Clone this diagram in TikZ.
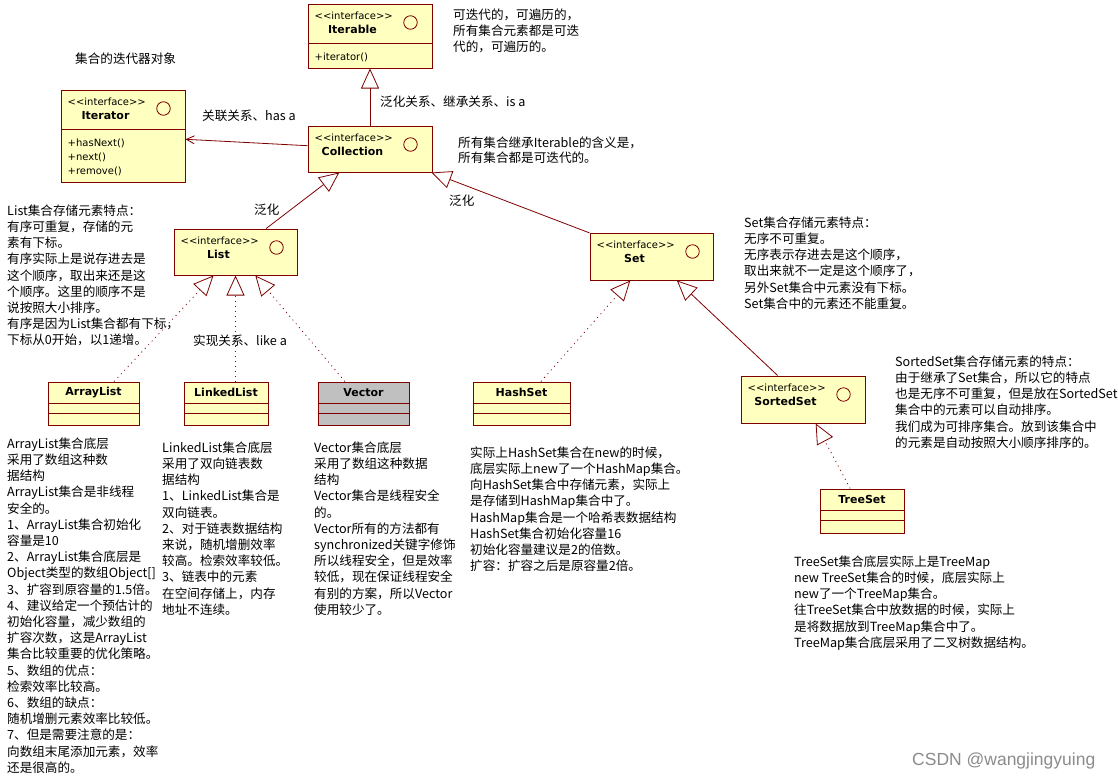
\documentclass[tikz,border=0pt]{standalone}
\usepackage{fontspec}
\setmainfont{Noto Sans CJK SC}
\newfontfamily\umlfont{DejaVu Sans}
\newfontfamily\markfont{Liberation Sans}
\usetikzlibrary{arrows.meta,calc}
\definecolor{umlred}{RGB}{128,0,0}
\definecolor{umlyellow}{RGB}{255,255,192}
\definecolor{umlgray}{RGB}{192,192,192}
\tikzset{
    umlbox/.style={draw=umlred, fill=umlyellow, line width=1pt, inner sep=0pt},
    stereo/.style={anchor=west, inner sep=0pt, font=\umlfont\fontsize{10}{12}\selectfont},
    method/.style={anchor=north west, align=left, inner sep=0pt, font=\umlfont\fontsize{10}{14}\selectfont},
    boxname/.style={inner sep=0pt, font=\umlfont\bfseries\fontsize{11}{13}\selectfont},
    ifcircle/.style={circle, draw=umlred, line width=0.8pt, minimum size=13.5pt, inner sep=0pt},
    note/.style={anchor=north west, align=left, inner sep=0pt, font=\fontsize{12.6}{16.2}\selectfont},
    gen/.style={draw=umlred, line width=0.8pt, -{Triangle[open, length=20pt, width=18pt, fill=white]}},
    real/.style={gen, dash pattern=on 1pt off 4pt},
    assoc/.style={draw=umlred, line width=0.8pt, -{Straight Barb[length=8pt, width=8pt]}},
}

\begin{document}
\begin{tikzpicture}[x=1pt, y=-1pt]
    \fill[white] (0,0) rectangle (1118,782);
    \useasboundingbox (0,0) rectangle (1118,782);

    % interfaces
    \node[umlbox, minimum width=124pt, minimum height=64pt] (iterable) at (370,36) {};
    \node[umlbox, minimum width=124pt, minimum height=92pt] (iterator) at (123,136) {};
    \node[umlbox, minimum width=124pt, minimum height=46pt] (collection) at (370,149) {};
    \node[umlbox, minimum width=123pt, minimum height=46pt] (list) at (235.5,252) {};
    \node[umlbox, minimum width=123pt, minimum height=47pt] (set) at (651.5,256.5) {};
    \node[umlbox, minimum width=124pt, minimum height=47pt] (sortedset) at (803,399.5) {};

    \foreach \n/\t in {iterable/Iterable, iterator/Iterator, collection/Collection, list/List, set/Set, sortedset/SortedSet}{
        \node[stereo] (\n st) at ($(\n.north west)+(7,12)$) {<\kern0pt<interface>\kern0pt>};
        \node[boxname] (\n nm) at ($(\n.north west)+(45,26)$) {\t};
        \node[ifcircle] (\n ic) at ($(\n.north west)+(103,19)$) {};
    }
    \draw[umlred, line width=1pt] ($(iterable.north west)+(0,40)$) -- ($(iterable.north east)+(0,40)$);
    \draw[umlred, line width=1pt] ($(iterator.north west)+(0,40)$) -- ($(iterator.north east)+(0,40)$);
    \node[stereo] (iterable m) at ($(iterable.north west)+(7,53.5)$) {+iterator()};
    \node[method] (iterator m) at ($(iterator.north west)+(7,49.5)$) {+hasNext()\\+next()\\+remove()};

    % classes
    \node[umlbox, minimum width=91pt, minimum height=43pt] (arraylist) at (93.5,403.5) {};
    \node[umlbox, minimum width=84pt, minimum height=43pt] (linkedlist) at (226,403.5) {};
    \node[umlbox, fill=umlgray, minimum width=91pt, minimum height=43pt] (vector) at (363.5,403.5) {};
    \node[umlbox, minimum width=97pt, minimum height=43pt] (hashset) at (521.5,403.5) {};
    \node[umlbox, minimum width=84pt, minimum height=44pt] (treeset) at (862,511) {};

    \foreach \n/\t in {arraylist/ArrayList, linkedlist/LinkedList, vector/Vector, hashset/HashSet, treeset/TreeSet}{
        \node[boxname] (\n nm) at ($(\n.north)+(0,11)$) {\t};
        \draw[umlred, line width=1pt] ($(\n.north west)+(0,22)$) -- ($(\n.north east)+(0,22)$)
            ($(\n.north west)+(0,32)$) -- ($(\n.north east)+(0,32)$);
    }

    % connectors
    \draw[gen] (collection) -- (iterable);
    \draw[assoc] (collection) -- (iterator);
    \draw[gen] (list) -- (collection);
    \draw[gen] (set) -- (collection);
    \draw[real] (arraylist) -- (list);
    \draw[real] (linkedlist.north -| list.south) -- (list.south);
    \draw[real] (vector) -- (list);
    \draw[real] (hashset) -- (set);
    \draw[gen] (sortedset) -- (set);
    \draw[real] (treeset) -- (sortedset);

    % labels
    \node[note] (itnote) at (453,8.5) {可迭代的，可遍历的，\\所有集合元素都是可迭\\代的，可遍历的。};
    \node[note] (itertext) at (75,52.5) {集合的迭代器对象};
    \node[note] (hasa) at (202,109.5) {关联关系、has a};
    \node[note] (isa) at (380,95.5) {泛化关系、继承关系、is a};
    \node[note, font=\fontsize{12.6}{15}\selectfont] (collnote) at (458,136.5) {所有集合继承Iterable的含义是，\\所有集合都是可迭代的。};
    \node[note] (genlist) at (254,203.5) {泛化};
    \node[note] (genset) at (449,194.5) {泛化};
    \node[note] (likea) at (193,334.5) {实现关系、like a};

    \node[note] (listnote) at (7,204.5) {List集合存储元素特点：\\有序可重复，存储的元\\素有下标。\\有序实际上是说存进去是\\这个顺序，取出来还是这\\个顺序。这里的顺序不是\\说按照大小排序。\\有序是因为List集合都有下标，\\下标从0开始，以1递增。};
    \node[note] (setnote) at (744,216.5) {Set集合存储元素特点：\\无序不可重复。\\无序表示存进去是这个顺序，\\取出来就不一定是这个顺序了，\\另外Set集合中元素没有下标。\\Set集合中的元素还不能重复。};
    \node[note] (sortednote) at (895,355.5) {SortedSet集合存储元素的特点：\\由于继承了Set集合，所以它的特点\\也是无序不可重复，但是放在SortedSet\\集合中的元素可以自动排序。\\我们成为可排序集合。放到该集合中\\的元素是自动按照大小顺序排序的。};
    \node[note] (arraynote) at (7,437.5) {ArrayList集合底层\\采用了数组这种数\\据结构\\ArrayList集合是非线程\\安全的。\\1、ArrayList集合初始化\\容量是10\\2、ArrayList集合底层是\\Object类型的数组Object[]\\3、扩容到原容量的1.5倍。\\4、建议给定一个预估计的\\初始化容量，减少数组的\\扩容次数，这是ArrayList\\集合比较重要的优化策略。\\5、数组的优点：\\检索效率比较高。\\6、数组的缺点：\\随机增删元素效率比较低。\\7、但是需要注意的是：\\向数组末尾添加元素，效率\\还是很高的。};
    \node[note] (linkednote) at (162,441.5) {LinkedList集合底层\\采用了双向链表数\\据结构\\1、LinkedList集合是\\双向链表。\\2、对于链表数据结构\\来说，随机增删效率\\较高。检索效率较低。\\3、链表中的元素\\在空间存储上，内存\\地址不连续。};
    \node[note] (vectornote) at (314,441.5) {Vector集合底层\\采用了数组这种数据\\结构\\Vector集合是线程安全\\的。\\Vector所有的方法都有\\synchronized关键字修饰\\所以线程安全，但是效率\\较低，现在保证线程安全\\有别的方案，所以Vector\\使用较少了。};
    \node[note] (hashnote) at (470,446.5) {实际上HashSet集合在new的时候，\\底层实际上new了一个HashMap集合。\\向HashSet集合中存储元素，实际上\\是存储到HashMap集合中了。\\HashMap集合是一个哈希表数据结构\\HashSet集合初始化容量16\\初始化容量建议是2的倍数。\\扩容：扩容之后是原容量2倍。};
    \node[note] (treenote) at (794,555.5) {TreeSet集合底层实际上是TreeMap\\new TreeSet集合的时候，底层实际上\\new了一个TreeMap集合。\\往TreeSet集合中放数据的时候，实际上\\是将数据放到TreeMap集合中了。\\TreeMap集合底层采用了二叉树数据结构。};

    \node[anchor=west, inner sep=0pt, text=black!45, font=\markfont\fontsize{17.5}{20}\selectfont] (mark) at (912,761) {CSDN @wangjingyuing};
\end{tikzpicture}
\end{document}
